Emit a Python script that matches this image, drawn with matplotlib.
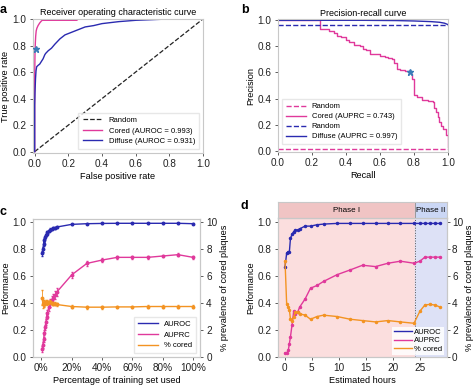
import numpy as np
import matplotlib
matplotlib.use("Agg")
import matplotlib.pyplot as plt
from matplotlib.lines import Line2D

plt.rcParams['font.family'] = ['Liberation Sans', 'DejaVu Sans']
plt.rcParams['font.size'] = 6.6
plt.rcParams['xtick.labelsize'] = 7.2
plt.rcParams['ytick.labelsize'] = 7.2
plt.rcParams['axes.edgecolor'] = '#c8c8c8'
plt.rcParams['axes.linewidth'] = 0.8
plt.rcParams['xtick.major.size'] = 2.5
plt.rcParams['ytick.major.size'] = 2.5
plt.rcParams['xtick.major.width'] = 0.6
plt.rcParams['ytick.major.width'] = 0.6
plt.rcParams['xtick.color'] = '#444444'
plt.rcParams['ytick.color'] = '#444444'
plt.rcParams['xtick.labelcolor'] = '#222222'
plt.rcParams['ytick.labelcolor'] = '#222222'
plt.rcParams['xtick.major.pad'] = 2.0
plt.rcParams['ytick.major.pad'] = 2.0

BLUE = '#2a2ab0'
PINK = '#e0399b'
ORANGE = '#f39322'
STAR = '#3a7cb8'

# ---- panel a : ROC
roc_cored_fpr = [0, 0, 0.002, 0.004, 0.006, 0.009, 0.013, 0.02, 0.03, 0.04, 0.045, 0.25, 0.26, 1.0]
roc_cored_tpr = [0, 0.55, 0.75, 0.82, 0.87, 0.91, 0.93, 0.95, 0.97, 0.985, 0.99, 0.99, 1.0, 1.0]
roc_diff_fpr = [0, 0, 0.002, 0.005, 0.008, 0.012, 0.02, 0.03, 0.04, 0.05, 0.06, 0.065, 0.08, 0.1,
                0.12, 0.15, 0.18, 0.22, 0.26, 0.3, 0.35, 0.4, 0.5, 0.6, 0.7, 0.8, 0.9, 1.0]
roc_diff_tpr = [0, 0.35, 0.45, 0.55, 0.61, 0.64, 0.65, 0.66, 0.68, 0.7, 0.73, 0.74, 0.76, 0.78,
                0.81, 0.85, 0.88, 0.9, 0.92, 0.94, 0.95, 0.965, 0.98, 0.99, 0.995, 1.0, 1.0, 1.0]
roc_star = (0.005, 0.775)

# ---- panel b : PR
pr_cored_rec = [0, 0.245, 0.3, 0.33, 0.35, 0.37, 0.4, 0.42, 0.45, 0.48, 0.5, 0.52, 0.54, 0.57,
                0.6, 0.63, 0.65, 0.67, 0.68, 0.7, 0.72, 0.75, 0.78, 0.79, 0.8, 0.82, 0.85,
                0.88, 0.91, 0.92, 0.93, 0.94, 0.95, 0.96, 0.97, 0.99, 1.0]
pr_cored_prec = [1.0, 0.93, 0.92, 0.9, 0.88, 0.87, 0.85, 0.83, 0.81, 0.8, 0.78, 0.77, 0.74, 0.745,
                 0.73, 0.72, 0.71, 0.7, 0.67, 0.63, 0.62, 0.61, 0.59, 0.55, 0.43, 0.41, 0.39,
                 0.38, 0.37, 0.33, 0.3, 0.26, 0.22, 0.19, 0.17, 0.12, 0.03]
pr_diff_rec = [0, 0.5, 0.7, 0.8, 0.9, 0.95, 0.98, 1.0]
pr_diff_prec = [1.0, 1.0, 0.998, 0.995, 0.99, 0.985, 0.978, 0.967]
rand_cored = 0.012
rand_diff = 0.963
pr_star = (0.775, 0.605)

# ---- panel c : training set size
pct = [0.5, 1, 1.5, 2, 2.5, 3, 3.5, 4, 5, 6, 7, 8, 9, 10, 20, 30, 40, 50, 60, 70, 80, 90, 100]
c_auroc = [0.77, 0.80, 0.84, 0.87, 0.89, 0.905, 0.915, 0.925, 0.935, 0.945, 0.95, 0.955, 0.96, 0.965,
           0.985, 0.99, 0.992, 0.993, 0.993, 0.993, 0.993, 0.993, 0.99]
c_auroc_err = [0.02, 0.02, 0.015, 0.015, 0.01, 0.01, 0.01, 0.01, 0.01, 0.01, 0.008, 0.008, 0.008, 0.008,
               0.005, 0.004, 0.003, 0.003, 0.003, 0.003, 0.003, 0.003, 0.003]
c_auprc = [0.06, 0.09, 0.13, 0.18, 0.22, 0.26, 0.30, 0.33, 0.37, 0.40, 0.42, 0.44, 0.46, 0.48,
           0.61, 0.695, 0.72, 0.74, 0.74, 0.74, 0.75, 0.76, 0.74]
c_auprc_err = [0.02, 0.02, 0.02, 0.02, 0.02, 0.02, 0.02, 0.02, 0.025, 0.03, 0.03, 0.03, 0.03, 0.03,
               0.02, 0.02, 0.012, 0.01, 0.01, 0.01, 0.01, 0.01, 0.01]
c_cored = [4.4, 3.95, 3.9, 4.0, 4.0, 4.05, 4.1, 4.0, 4.05, 4.1, 4.0, 3.95, 3.95, 3.9,
           3.75, 3.7, 3.7, 3.72, 3.72, 3.75, 3.75, 3.75, 3.75]
c_cored_err = [0.55, 0.3, 0.2, 0.2, 0.15, 0.15, 0.15, 0.15, 0.12, 0.12, 0.12, 0.12, 0.1, 0.1,
               0.1, 0.1, 0.1, 0.08, 0.08, 0.08, 0.08, 0.08, 0.08]
c_ticks = [0, 20, 40, 60, 80, 100]
c_ticklabels = ['0%', '20%', '40%', '60%', '80%', '100%']

# ---- panel d : estimated hours
hours = [0.1, 0.4, 0.7, 0.9, 1.1, 1.4, 1.7, 2.0, 2.4, 2.8, 3.8, 4.8, 6.0, 7.2, 9.7, 12.1, 14.4,
         16.8, 19.1, 21.4, 23.9, 25.0, 25.9, 26.8, 27.8, 28.7]
d_auroc = [0.67, 0.77, 0.78, 0.78, 0.88, 0.91, 0.93, 0.94, 0.94, 0.95, 0.97, 0.97, 0.98, 0.985, 0.99,
           0.99, 0.99, 0.99, 0.99, 0.99, 0.99, 0.99, 0.99, 0.99, 0.99, 0.99]
d_auprc = [0.03, 0.03, 0.05, 0.1, 0.15, 0.24, 0.34, 0.32, 0.33, 0.37, 0.43, 0.51, 0.53, 0.56, 0.61,
           0.645, 0.68, 0.67, 0.695, 0.71, 0.695, 0.71, 0.74, 0.74, 0.74, 0.74]
d_cored = [7.1, 3.9, 3.7, 3.5, 2.8, 2.7, 3.0, 3.3, 3.3, 3.2, 3.1, 2.8, 3.0, 3.1, 3.0, 2.8, 2.7,
           2.6, 2.7, 2.6, 2.5, 3.4, 3.85, 3.9, 3.85, 3.7]
phase_split = 24.1
d_xmax = 29.9

fig = plt.figure(figsize=(4.74, 3.88), dpi=100)

# ================= a
ax = fig.add_axes([0.0696, 0.6057, 0.3586, 0.3454])
ax.plot([0, 1], [0, 1], '--', color='#222222', lw=0.9, label='Random')
ax.plot(roc_cored_fpr, roc_cored_tpr, color=PINK, lw=1.0, label='Cored (AUROC = 0.993)')
ax.plot(roc_diff_fpr, roc_diff_tpr, color=BLUE, lw=1.0, label='Diffuse (AUROC = 0.931)')
ax.plot(*roc_star, marker='*', color=STAR, ms=5, zorder=5)
ax.set_xlim(-0.01, 1.0)
ax.set_ylim(-0.01, 1.0)
ax.set_xticks([0, 0.2, 0.4, 0.6, 0.8, 1.0])
ax.set_yticks([0, 0.2, 0.4, 0.6, 0.8, 1.0])
ax.set_title('Receiver operating characteristic curve', fontsize=6.5, pad=3)
ax.set_xlabel('False positive rate', labelpad=2)
ax.set_ylabel('True positive rate', labelpad=2)
ax.legend(loc='lower right', fontsize=5.5, fancybox=False, edgecolor='#e2e2e2',
          handlelength=2.6, borderpad=0.55, labelspacing=0.4)
fig.text(0.0, 0.99, 'a', fontsize=9, fontweight='bold', va='top')

# ================= b
ax = fig.add_axes([0.5865, 0.6082, 0.3586, 0.3428])
ax.plot([0, 1], [rand_cored, rand_cored], '--', color=PINK, lw=1.0, label='Random')
ax.step(pr_cored_rec, pr_cored_prec, where='post', color=PINK, lw=1.0, label='Cored (AUPRC = 0.743)')
ax.plot([0, 1], [rand_diff, rand_diff], '--', color=BLUE, lw=1.0, label='Random')
ax.plot(pr_diff_rec, pr_diff_prec, color=BLUE, lw=1.0, label='Diffuse (AUPRC = 0.997)')
ax.plot(*pr_star, marker='*', color=STAR, ms=5, zorder=5)
ax.set_xlim(0, 1.0)
ax.set_ylim(-0.01, 1.01)
ax.set_xticks([0, 0.2, 0.4, 0.6, 0.8, 1.0])
ax.set_yticks([0, 0.2, 0.4, 0.6, 0.8, 1.0])
ax.set_title('Precision-recall curve', fontsize=6.5, pad=2)
ax.set_xlabel('Recall', labelpad=2)
ax.set_ylabel('Precision', labelpad=2)
ax.legend(loc='lower left', bbox_to_anchor=(0.0, 0.03), fontsize=5.5, fancybox=False,
          edgecolor='#e2e2e2', handlelength=2.6, borderpad=0.5, labelspacing=0.35)
fig.text(0.508, 0.99, 'b', fontsize=9, fontweight='bold', va='top')

# ================= c
ax = fig.add_axes([0.0696, 0.0799, 0.3523, 0.3557])
ax2 = ax.twinx()
ax.errorbar(pct, c_auroc, yerr=c_auroc_err, color=BLUE, lw=1.0, marker='o', ms=1.8,
            elinewidth=0.6, capsize=1)
ax.errorbar(pct, c_auprc, yerr=c_auprc_err, color=PINK, lw=1.0, marker='o', ms=1.8,
            elinewidth=0.6, capsize=1)
ax2.errorbar(pct, c_cored, yerr=c_cored_err, color=ORANGE, lw=1.0, marker='o', ms=1.8,
             elinewidth=0.6, capsize=1)
ax.set_xlim(-5.5, 104.5)
ax.set_ylim(0, 1.025)
ax2.set_ylim(0, 10.25)
ax.set_xticks(c_ticks)
ax.set_xticklabels(c_ticklabels)
ax.set_yticks([0, 0.2, 0.4, 0.6, 0.8, 1.0])
ax2.set_yticks([0, 2, 4, 6, 8, 10])
ax.set_xlabel('Percentage of training set used', labelpad=2)
ax.set_ylabel('Performance', labelpad=2)
ax2.set_ylabel('% prevalence of cored plaques', labelpad=2)
handles = [Line2D([], [], color=BLUE, lw=1.0), Line2D([], [], color=PINK, lw=1.0),
           Line2D([], [], color=ORANGE, lw=1.0)]
ax2.legend(handles, ['AUROC', 'AUPRC', '% cored'], loc='lower right', fontsize=5.5,
           fancybox=False, edgecolor='#e2e2e2', handlelength=2.6, borderpad=0.5, labelspacing=0.45)
fig.text(0.0, 0.47, 'c', fontsize=9, fontweight='bold', va='top')

# ================= d
ax = fig.add_axes([0.5865, 0.0799, 0.3555, 0.3582])
axb = fig.add_axes([0.5865, 0.4381, 0.3555, 0.0412])
ax.axvspan(-1.2, phase_split, color='#fbdede', zorder=0)
ax.axvspan(phase_split, d_xmax, color='#dde1f6', zorder=0)
ax.axvline(phase_split, color='#555555', lw=0.7, ls=':', zorder=1)
ax2 = ax.twinx()
ax.plot(hours, d_auroc, color=BLUE, lw=1.0, marker='o', ms=1.5)
ax.plot(hours, d_auprc, color=PINK, lw=1.0, marker='o', ms=1.5)
ax2.plot(hours, d_cored, color=ORANGE, lw=1.0, marker='o', ms=1.5)
ax.set_xlim(-1.2, d_xmax)
ax.set_ylim(0, 1.03)
ax2.set_ylim(0, 10.3)
ax.set_xticks([0, 5, 10, 15, 20, 25])
ax.set_yticks([0, 0.2, 0.4, 0.6, 0.8, 1.0])
ax2.set_yticks([0, 2, 4, 6, 8, 10])
ax2.tick_params(axis='y', pad=1.5)
ax.set_xlabel('Estimated hours', labelpad=2)
ax.set_ylabel('Performance', labelpad=2)
ax2.set_ylabel('% prevalence of cored plaques', labelpad=1)
ax2.legend(handles, ['AUROC', 'AUPRC', '% cored'], loc='lower right', fontsize=5.5,
           frameon=True, framealpha=0.85, edgecolor='none', fancybox=False,
           handlelength=2.4, borderpad=0.25, labelspacing=0.15, handletextpad=0.3,
           borderaxespad=0.3)

axb.axvspan(-1.2, phase_split, color='#f0c4c4')
axb.axvspan(phase_split, d_xmax, color='#cbd7f5')
axb.axvline(phase_split, color='#999999', lw=0.7)
axb.set_xlim(-1.2, d_xmax)
axb.set_ylim(0, 1)
axb.set_xticks([])
axb.set_yticks([])
axb.text((-1.2 + phase_split) / 2, 0.5, 'Phase I', ha='center', va='center', fontsize=5.8)
axb.text((phase_split + d_xmax) / 2, 0.5, 'Phase II', ha='center', va='center', fontsize=5.8)
fig.text(0.508, 0.485, 'd', fontsize=9, fontweight='bold', va='top')

fig.savefig('out.png', dpi=100)
